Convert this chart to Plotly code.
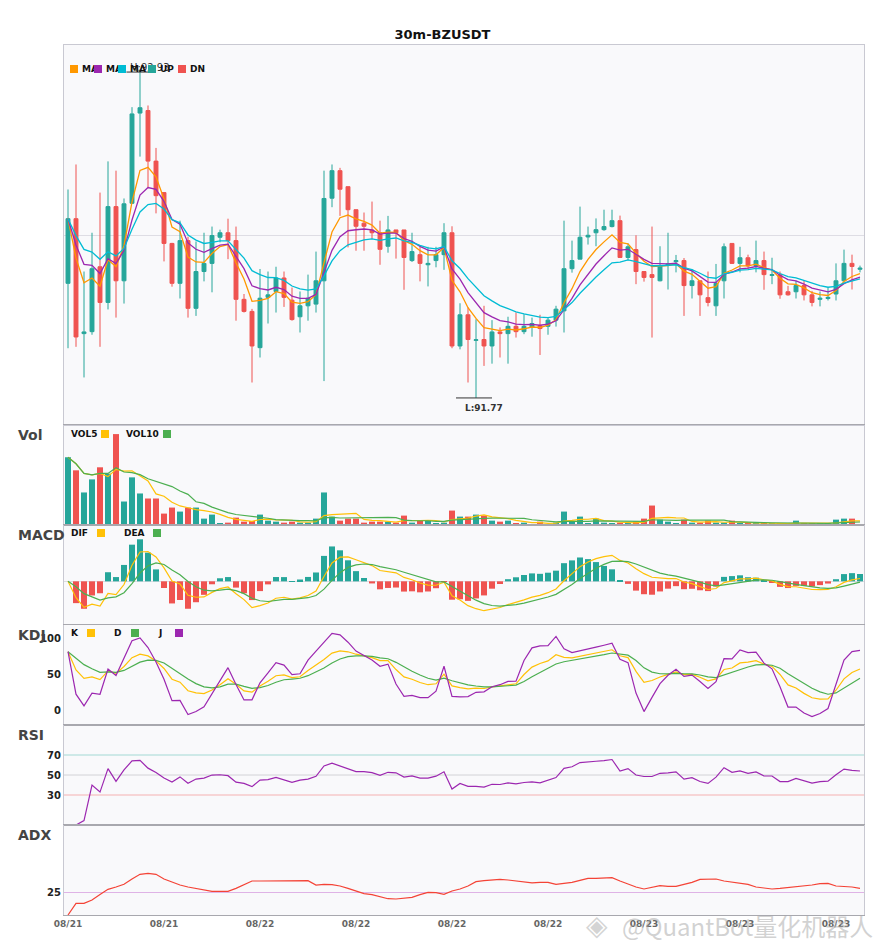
import numpy as np
import pandas as pd
import plotly.graph_objects as go
from plotly.subplots import make_subplots

TITLE = "30m-BZUSDT"

opens = [92.178, 92.408, 91.999, 92.006, 92.237, 92.110, 92.451, 92.187, 92.463, 92.784,
         92.793, 92.613, 92.501, 92.320, 92.178, 92.330, 92.089, 92.220, 92.249, 92.342,
         92.358, 92.330, 92.121, 92.078, 91.949, 92.128, 92.149, 92.197, 92.118, 92.059,
         92.098, 92.104, 92.187, 92.481, 92.579, 92.522, 92.440, 92.392, 92.368, 92.358,
         92.310, 92.368, 92.368, 92.259, 92.280, 92.244, 92.259, 92.280, 92.358, 91.955,
         92.066, 91.975, 91.978, 91.955, 92.005, 91.999, 92.025, 92.006, 92.021, 92.027,
         92.025, 92.047, 92.080, 92.230, 92.264, 92.343, 92.358, 92.369, 92.380, 92.401,
         92.270, 92.298, 92.220, 92.209, 92.187, 92.242, 92.255, 92.259, 92.170, 92.187,
         92.127, 92.098, 92.187, 92.320, 92.249, 92.269, 92.240, 92.259, 92.206, 92.209,
         92.148, 92.148, 92.170, 92.137, 92.121, 92.124, 92.140, 92.187, 92.249, 92.228]
highs = [92.512, 92.601, 92.220, 92.358, 92.501, 92.612, 92.579, 92.480, 92.805, 92.930,
         92.811, 92.660, 92.502, 92.322, 92.401, 92.344, 92.327, 92.358, 92.380, 92.369,
         92.408, 92.380, 92.140, 92.087, 92.229, 92.220, 92.237, 92.220, 92.163, 92.149,
         92.209, 92.291, 92.579, 92.601, 92.589, 92.522, 92.440, 92.430, 92.469, 92.401,
         92.418, 92.368, 92.368, 92.358, 92.308, 92.308, 92.308, 92.392, 92.381, 92.107,
         92.092, 92.050, 92.098, 92.047, 92.021, 92.059, 92.074, 92.068, 92.056, 92.066,
         92.056, 92.098, 92.401, 92.330, 92.451, 92.380, 92.409, 92.440, 92.440, 92.419,
         92.320, 92.349, 92.220, 92.380, 92.310, 92.358, 92.279, 92.268, 92.229, 92.187,
         92.220, 92.247, 92.320, 92.320, 92.308, 92.280, 92.330, 92.291, 92.269, 92.220,
         92.169, 92.187, 92.187, 92.151, 92.149, 92.163, 92.249, 92.298, 92.280, 92.241]
lows = [91.947, 91.952, 91.843, 91.995, 91.952, 92.085, 92.056, 92.106, 92.461, 92.629,
        92.520, 92.427, 92.256, 92.166, 92.124, 92.056, 92.062, 92.185, 92.146, 92.324,
        92.264, 92.045, 92.074, 91.825, 91.914, 92.035, 92.074, 92.094, 92.045, 92.003,
        92.045, 92.074, 91.830, 92.449, 92.418, 92.306, 92.294, 92.294, 92.336, 92.244,
        92.287, 92.266, 92.155, 92.254, 92.185, 92.167, 92.235, 92.226, 91.947, 91.943,
        91.825, 91.770, 91.884, 91.892, 91.914, 91.892, 91.985, 91.997, 91.988, 91.923,
        91.995, 92.024, 92.003, 92.216, 92.264, 92.316, 92.310, 92.365, 92.377, 92.268,
        92.259, 92.175, 92.184, 91.985, 92.185, 92.156, 92.217, 92.062, 92.124, 92.062,
        92.096, 92.062, 92.124, 92.247, 92.217, 92.229, 92.217, 92.155, 92.175, 92.123,
        92.134, 92.124, 92.117, 92.096, 92.096, 92.117, 92.117, 92.187, 92.156, 92.217]
closes = [92.408, 91.987, 92.005, 92.230, 92.110, 92.451, 92.187, 92.461, 92.781, 92.803,
          92.613, 92.490, 92.320, 92.178, 92.330, 92.089, 92.220, 92.249, 92.348, 92.358,
          92.330, 92.121, 92.078, 91.955, 92.125, 92.137, 92.197, 92.128, 92.049, 92.098,
          92.125, 92.187, 92.480, 92.579, 92.513, 92.440, 92.381, 92.381, 92.358, 92.299,
          92.368, 92.358, 92.270, 92.291, 92.249, 92.249, 92.280, 92.358, 91.955, 92.066,
          91.978, 91.977, 91.955, 92.005, 91.999, 92.025, 92.006, 92.025, 92.035, 92.017,
          92.047, 92.086, 92.230, 92.259, 92.342, 92.349, 92.369, 92.380, 92.401, 92.270,
          92.308, 92.220, 92.199, 92.199, 92.241, 92.247, 92.259, 92.170, 92.187, 92.137,
          92.110, 92.178, 92.308, 92.249, 92.269, 92.240, 92.259, 92.209, 92.209, 92.137,
          92.137, 92.170, 92.137, 92.110, 92.125, 92.128, 92.187, 92.249, 92.238, 92.232]
volumes = [202, 163, 97, 136, 172, 153, 271, 70, 142, 94,
           79, 79, 34, 52, 40, 52, 52, 19, 31, 4,
           7, 22, 10, 12, 31, 13, 10, 7, 10, 7,
           7, 19, 97, 25, 13, 19, 19, 7, 10, 10,
           10, 7, 28, 7, 15, 13, 4, 7, 43, 25,
           25, 31, 28, 13, 10, 13, 4, 7, 1, 10,
           2, 7, 40, 10, 25, 4, 19, 7, 4, 7,
           4, 10, 19, 58, 16, 10, 4, 16, 7, 7,
           13, 7, 7, 13, 4, 4, 4, 4, 4, 4,
           4, 13, 4, 4, 4, 4, 16, 19, 19, 2]
# ADX values
adx_values = [0, 13, 13, 16.7, 22.9, 28.5, 31.1, 34.1, 40, 45.2,
              46.3, 45.2, 40, 36.3, 33.3, 31.1, 29.6, 27.4, 26.3, 26.3,
              26.3, 29.6, 33.3, 37.8, 37.8, 37.8, 37.8, 37.8, 37.8, 38.5,
              38.1, 33.3, 34.1, 33.7, 32.2, 29.6, 26.7, 23.7, 22.6, 20,
              18.1, 17.8, 18.5, 19.6, 22.6, 25.2, 24.8, 22.9, 26.7, 28.9,
              32.2, 37, 38.1, 38.9, 39.6, 38.9, 37.8, 37, 35.6, 36.3,
              36.3, 34.1, 35.2, 36.3, 38.5, 40.7, 40.7, 41.5, 41.5, 37.8,
              34.1, 31.1, 28.9, 30.7, 32.6, 31.9, 31.9, 34.1, 36.3, 39.6,
              40, 40, 37.8, 36.3, 34.8, 34.1, 31.1, 29.6, 28.9, 29.6,
              30.4, 31.5, 32.6, 33.3, 34.8, 35.2, 32.2, 31.9, 31.1, 29.6]

tick_positions = [0, 12, 24, 36, 48, 60, 72, 84, 96]
tick_labels = ["08/21", "08/21", "08/22", "08/22", "08/22", "08/22", "08/23", "08/23", "08/23"]

ma_spans = [5, 8, 13]
macd_params = (8, 13, 5)
vol_windows = [5, 10]
kdj_levels = [100, 50, 0]
rsi_levels = [70, 50, 30]
adx_levels = [25]

# ---------------- indicators (derived from the candles above) ----------------
o = np.array(opens); h = np.array(highs); l = np.array(lows); c = np.array(closes)
v = np.array(volumes, dtype=float)
adx = np.array(adx_values)
n = len(c)
idx = np.arange(n)


def ema(x, span):
    a = 2.0 / (span + 1)
    out = np.empty(len(x))
    out[0] = x[0]
    for i in range(1, len(x)):
        out[i] = out[i - 1] + a * (x[i] - out[i - 1])
    return out


mas = [ema(c, s) for s in ma_spans]
vol_mas = [pd.Series(v).rolling(w, min_periods=1).mean().values for w in vol_windows]

fast, slow, sig = macd_params
dif = ema(c, fast) - ema(c, slow)
dea = ema(dif, sig)
macd_hist = 2 * (dif - dea)

hh = pd.Series(h).rolling(9, min_periods=1).max().values
ll = pd.Series(l).rolling(9, min_periods=1).min().values
rsv = (c - ll) / (hh - ll) * 100
K = np.empty(n); D = np.empty(n)
K[0] = rsv[0]; D[0] = rsv[0]
for i in range(1, n):
    K[i] = 2 / 3 * K[i - 1] + rsv[i] / 3
    D[i] = 2 / 3 * D[i - 1] + K[i] / 3
J = 3 * K - 2 * D

dd = np.diff(c, prepend=c[0])
au = ad = 0.0
rsi = np.empty(n)
for i in range(n):
    au += (max(dd[i], 0) - au) / 14
    ad += (max(-dd[i], 0) - ad) / 14
    rsi[i] = 0 if au + ad == 0 else 100 * au / (au + ad)

# ---------------- styles ----------------
UP = "#26a69a"; DN = "#ef5350"
MA_COLORS = ["#ff9800", "#9c27b0", "#00bcd4"]
YEL = "#ffc107"; GRN = "#4caf50"; PUR = "#9c27b0"; ADXC = "#f44336"
FONT = "DejaVu Sans"
OFF = 8                      # page body margin
W, H = 869, 934
ML, MT = 56, 37
PW, PH = 800, 870
MR = W - ML - PW
MB = H - MT - PH


def PX(px):  # page pixel -> paper
    return (px - OFF - ML) / PW


def PY(py):
    return (H - MB - (py - OFF)) / PH


fig = make_subplots(rows=6, cols=1, shared_xaxes=True, vertical_spacing=0,
                    row_heights=[380, 100, 100, 100, 100, 90])

fig.add_trace(go.Candlestick(
    x=idx, open=o, high=h, low=l, close=c, whiskerwidth=0,
    increasing=dict(line=dict(color=UP, width=1), fillcolor=UP),
    decreasing=dict(line=dict(color=DN, width=1), fillcolor=DN),
    showlegend=False, hoverinfo="skip"), row=1, col=1)
for m, col in zip(mas, MA_COLORS):
    fig.add_trace(go.Scatter(x=idx, y=m, mode="lines", line=dict(color=col, width=1.3),
                             showlegend=False, hoverinfo="skip"), row=1, col=1)

bar_cols = [UP if cc >= oo else DN for oo, cc in zip(o, c)]
fig.add_trace(go.Bar(x=idx, y=v, marker=dict(color=bar_cols, line=dict(width=0)),
                     showlegend=False, hoverinfo="skip"), row=2, col=1)
for m, col in zip(vol_mas, [YEL, GRN]):
    fig.add_trace(go.Scatter(x=idx, y=m, mode="lines", line=dict(color=col, width=1.2),
                             showlegend=False, hoverinfo="skip"), row=2, col=1)

hist_cols = [UP if x >= 0 else DN for x in macd_hist]
fig.add_trace(go.Bar(x=idx, y=macd_hist, marker=dict(color=hist_cols, line=dict(width=0)),
                     showlegend=False, hoverinfo="skip"), row=3, col=1)
fig.add_trace(go.Scatter(x=idx, y=dif, mode="lines", line=dict(color=YEL, width=1.2),
                         showlegend=False, hoverinfo="skip"), row=3, col=1)
fig.add_trace(go.Scatter(x=idx, y=dea, mode="lines", line=dict(color=GRN, width=1.2),
                         showlegend=False, hoverinfo="skip"), row=3, col=1)

for ser, col in zip([K, D, J], [YEL, GRN, PUR]):
    fig.add_trace(go.Scatter(x=idx, y=ser, mode="lines", line=dict(color=col, width=1.2),
                             showlegend=False, hoverinfo="skip"), row=4, col=1)
fig.add_trace(go.Scatter(x=idx, y=rsi, mode="lines", line=dict(color=PUR, width=1.2),
                         showlegend=False, hoverinfo="skip"), row=5, col=1)
fig.add_trace(go.Scatter(x=idx, y=adx, mode="lines", line=dict(color=ADXC, width=1.2),
                         showlegend=False, hoverinfo="skip"), row=6, col=1)

# axis ranges
lo, hi = l.min(), h.max()
pad = 0.083 * (hi - lo)
main_range = [lo - pad, hi + pad]
mid = (main_range[0] + main_range[1]) / 2
allm = np.concatenate([dif, dea, macd_hist])
mpad = 0.2 * (allm.max() - allm.min())
allk = np.concatenate([K, D, J])
kpad = 0.1 * (allk.max() - allk.min())

BORDER = "#c9c9d2"
fig.update_xaxes(range=[-0.5, n - 0.5], showgrid=False, zeroline=False, showline=True,
                 mirror=True, linecolor=BORDER, linewidth=1, rangeslider_visible=False,
                 ticks="", showticklabels=False)
fig.update_xaxes(row=6, col=1, showticklabels=True, tickvals=tick_positions, ticktext=tick_labels,
                 tickfont=dict(family=FONT, size=9, color="#666", weight="bold"))
for r in range(2, 7):
    fig.update_xaxes(row=r, col=1, linecolor="#a8a8ae")
fig.update_yaxes(showgrid=False, zeroline=False, showline=True, mirror=True, linecolor=BORDER,
                 linewidth=1, ticks="", showticklabels=False, fixedrange=True)
fig.update_yaxes(row=1, col=1, range=main_range, tickvals=[mid], showgrid=True,
                 gridcolor="#dedde4", gridwidth=1)
fig.update_yaxes(row=2, col=1, range=[0, v.max() * 1.1])
fig.update_yaxes(row=3, col=1, range=[allm.min() - mpad, allm.max() + mpad],
                 zeroline=True, zerolinecolor="#dcdce2", zerolinewidth=1)
tf = dict(family=FONT, size=10, color="#222", weight="bold")
fig.update_yaxes(row=4, col=1, range=[allk.min() - kpad, allk.max() + kpad],
                 tickvals=kdj_levels, ticktext=[str(x) for x in kdj_levels],
                 showticklabels=True, tickfont=tf)
fig.update_yaxes(row=5, col=1, range=[0, 100], tickvals=rsi_levels,
                 ticktext=[str(x) for x in rsi_levels], showticklabels=True, tickfont=tf)
fig.update_yaxes(row=6, col=1, range=[0, 100], tickvals=adx_levels,
                 ticktext=[str(x) for x in adx_levels], showticklabels=True, tickfont=tf)

# reference lines
LEVEL_COLS = ["#a3d9d4", "#d2d2d6", "#f5b1b1"]
shapes = []
for yref, levels in [("y4", kdj_levels), ("y5", rsi_levels)]:
    for lv, col in zip(levels, LEVEL_COLS):
        shapes.append(dict(type="line", xref="x domain", yref=yref, x0=0, x1=1, y0=lv, y1=lv,
                           line=dict(color=col, width=1), layer="below"))
for lv in adx_levels:
    shapes.append(dict(type="line", xref="x domain", yref="y6", x0=0, x1=1, y0=lv, y1=lv,
                       line=dict(color="#dfb3e6", width=1), layer="below"))

# high / low markers
imax = int(np.argmax(h)); imin = int(np.argmin(l))
shapes.append(dict(type="line", xref="x", yref="y", x0=imax - 1.7, x1=imax + 1.5,
                   y0=hi, y1=hi, line=dict(color="#333", width=1)))
shapes.append(dict(type="line", xref="x", yref="y", x0=imin - 2.5, x1=imin + 2.0,
                   y0=lo, y1=lo, line=dict(color="#333", width=1)))
fig.update_layout(shapes=shapes)

ann = []
ann.append(dict(x=imax - 1.5, y=hi, xref="x", yref="y", text=f"H:{hi:.2f}", showarrow=False,
                xanchor="left", yanchor="bottom", yshift=-3,
                font=dict(family=FONT, size=10, color="#333")))
ann.append(dict(x=imin - 1.6, y=lo, xref="x", yref="y", text=f"L:{lo:.2f}", showarrow=False,
                xanchor="left", yanchor="top", yshift=-3,
                font=dict(family=FONT, size=9, color="#333", weight="bold")))

# panel labels
for txt, py in [("Vol", 435), ("MACD", 535), ("KDJ", 635), ("RSI", 735), ("ADX", 835)]:
    ann.append(dict(x=PX(16), y=PY(py), xref="paper", yref="paper", text=txt, showarrow=False,
                    xanchor="left", yanchor="middle",
                    font=dict(family=FONT, size=14, color="#444", weight="bold")))

LF = dict(family=FONT, size=9, color="#111", weight="bold")


def legend(items, py):
    # items: (text, text_left_px, box_left_px, color)
    for txt, tx, bx, col in items:
        ann.append(dict(x=PX(tx), y=PY(py), xref="paper", yref="paper", text=txt,
                        showarrow=False, xanchor="left", yanchor="middle", font=LF))
        ann.append(dict(x=PX(bx), y=PY(py), xref="paper", yref="paper", text=" ",
                        showarrow=False, xanchor="left", yanchor="middle", width=8, height=8,
                        bgcolor=col, borderpad=0, borderwidth=0, font=dict(size=6)))


legend([("MA", 80, 70, MA_COLORS[0]), ("MA", 104, 94, MA_COLORS[1]),
        ("MA", 128, 118, MA_COLORS[2]), ("UP", 158, 148, UP), ("DN", 188, 178, DN)], 69)
legend([("VOL5", 69, 101, YEL), ("VOL10", 124, 163, GRN)], 434)
legend([("DIF", 69, 97, YEL), ("DEA", 122, 153, GRN)], 533)
legend([("K", 69, 87, YEL), ("D", 112, 131, GRN), ("J", 156, 175, PUR)], 633)

# watermark
ann.append(dict(x=PX(584), y=PY(925), xref="paper", yref="paper", text="◈", showarrow=False,
                xanchor="left", yanchor="middle",
                font=dict(family="DejaVu Sans", size=28, color="rgba(170,170,170,0.5)")))
ann.append(dict(x=PX(620), y=PY(925), xref="paper", yref="paper", text="@QuantBot量化机器人",
                showarrow=False, xanchor="left", yanchor="middle",
                font=dict(family="Noto Sans CJK SC", size=24, color="rgba(165,165,165,0.5)")))

fig.update_layout(
    annotations=ann,
    title=dict(text=TITLE, x=(442.5 - OFF) / W, xref="container", y=1 - (34 - OFF) / H,
               yref="container", xanchor="center", yanchor="middle",
               font=dict(family=FONT, size=13, color="#111", weight="bold")),
    width=W, height=H, margin=dict(l=ML, r=MR, t=MT, b=MB),
    paper_bgcolor="white", plot_bgcolor="#f9f9fb",
    bargap=0.25, showlegend=False, hovermode=False,
    font=dict(family=FONT),
)

fig.write_html("out.html", include_plotlyjs=True, config={"displayModeBar": False})
